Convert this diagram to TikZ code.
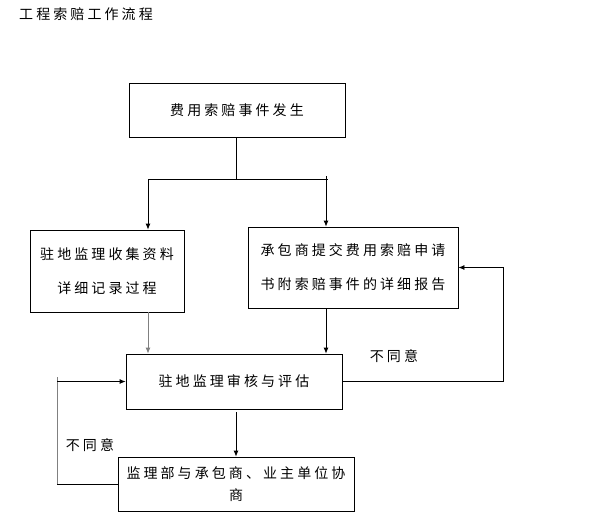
\documentclass[tikz,border=0pt]{standalone}
\usepackage{fontspec}
\setmainfont[LetterSpace=22]{Noto Sans CJK SC}
\usepackage{tikz}
\usetikzlibrary{arrows.meta,calc,positioning}
\XeTeXlinebreaklocale "zh"

\begin{document}
\begin{tikzpicture}[x=1pt,y=-1pt,
    box/.style={draw,line width=0.8pt,inner sep=0pt,align=center,
      font=\fontsize{14}{34}\selectfont},
    link/.style={line width=0.8pt,-{Latex[length=6pt,width=5pt]}},
    note/.style={inner sep=0pt,font=\fontsize{14}{16}\selectfont}]
  \useasboundingbox (0,0) rectangle (599,514);
  \node[inner sep=0pt,font=\fontsize{14}{16}\selectfont] (title) at (86,14) {工程索赔工作流程};

  \node[box,minimum width=216pt,minimum height=54pt] (occur) at (237,110) {费用索赔事件发生};
  \node[box,minimum width=154pt,minimum height=82pt] (collect) at (107,271) {驻地监理收集资料\\详细记录过程};
  \node[box,minimum width=210pt,minimum height=81pt] (submit) at (353,267.5) {承包商提交费用索赔申请\\书附索赔事件的详细报告};
  \node[box,minimum width=216pt,minimum height=55pt] (review) at (234,381.5) {驻地监理审核与评估};
  \node[box,minimum width=236pt,minimum height=54pt,
    font=\fontsize{14}{22}\selectfont] (consult) at (236,484) {监理部与承包商、业主单位协\\商};

  \coordinate (split) at (236,179);
  \coordinate (jL) at (148,179);
  \coordinate (jR) at (326,179);
  \coordinate (rx) at (503,267);
  \coordinate (lx) at (57,377);

  \draw[line width=0.8pt] (occur.south -| split) -- (split);
  \draw[line width=0.8pt] (jL) -- ([xshift=2pt]jR);
  \draw[link] (jL) -- (jL |- collect.north);
  \draw[link] ([yshift=3pt]jR) -- (jR |- submit.north);
  \draw[link,gray] (collect.south -| jL) -- (jL |- review.north);
  \draw[link] (submit.south -| jR) -- (jR |- review.north);
  \draw[line width=0.8pt] (review.east) -- (review.east -| rx) -- (rx);
  \draw[link] (submit.east -| rx) -- (submit.east);
  \draw[link] ([yshift=-3pt]consult.north |- review.south) -- (consult.north);
  \draw[line width=0.8pt] (consult.west) -- (consult.west -| lx);
  \draw[line width=0.8pt,gray] (consult.west -| lx) -- (lx);
  \draw[link] (review.west -| lx) -- (review.west);

  \node[note] (no1) at (394,356) {不同意};
  \node[note] (no2) at (90,445) {不同意};
\end{tikzpicture}
\end{document}
